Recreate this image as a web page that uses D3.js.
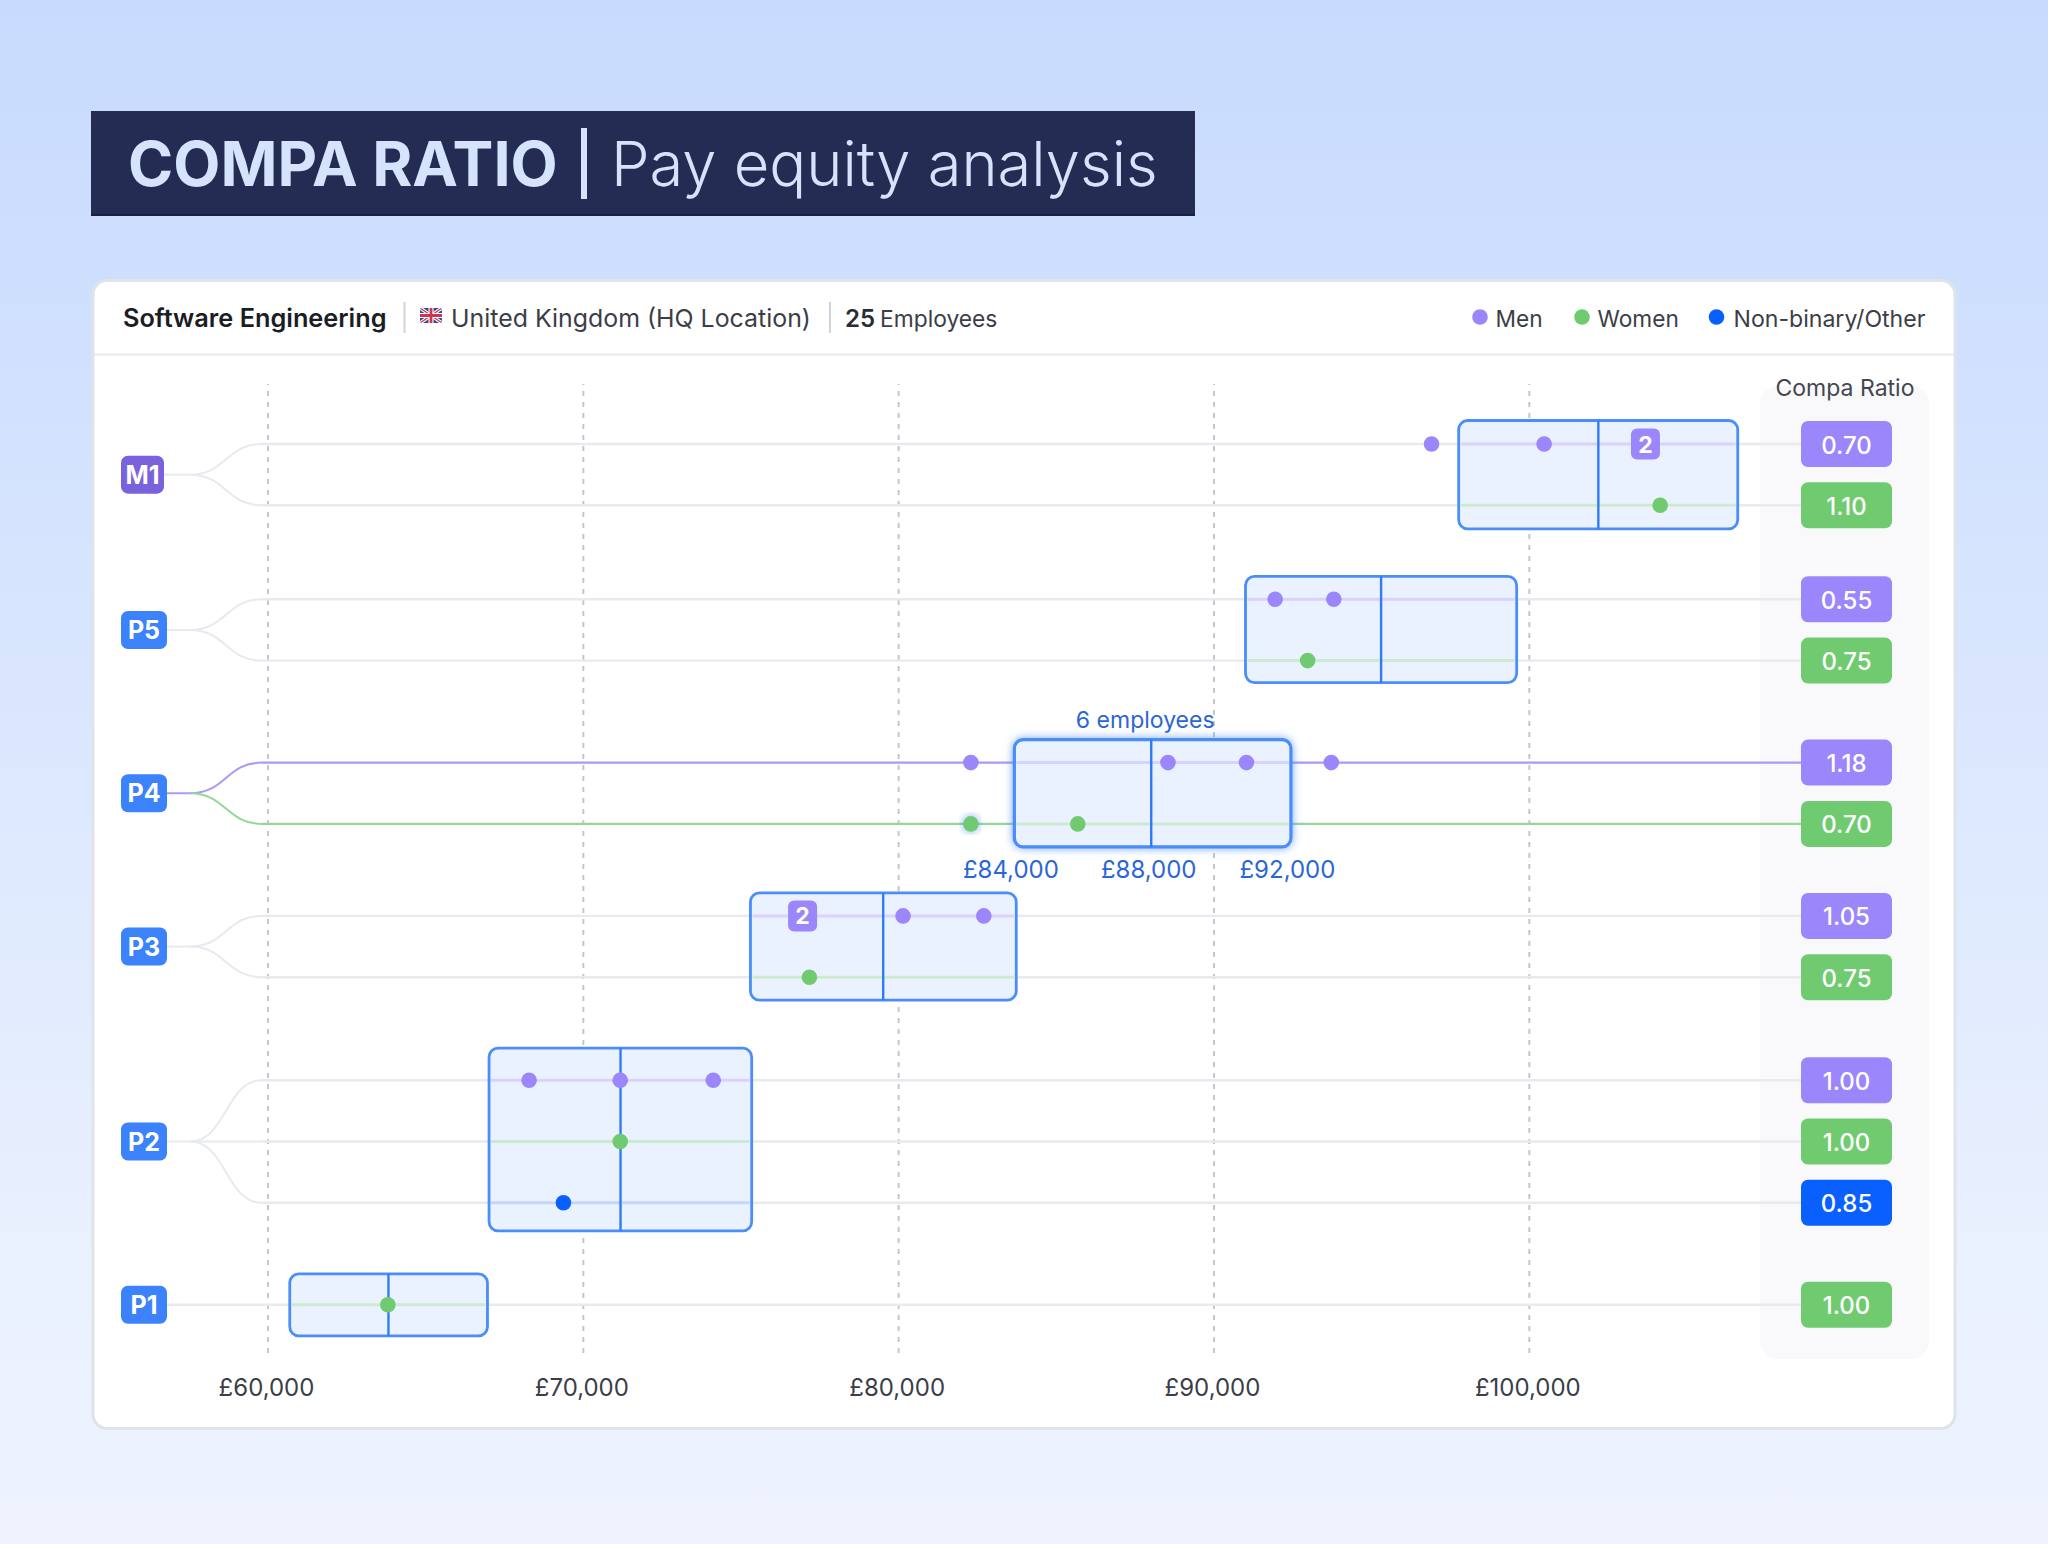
<!DOCTYPE html>
<html><head><meta charset="utf-8">
<script src="https://cdn.jsdelivr.net/npm/d3@7/dist/d3.min.js"></script>
<style>
html,body{margin:0;padding:0;background:#edf2fe}
svg{display:block}
text{font-family:Inter,"Noto Sans",sans-serif}
</style></head><body>
<script>
// ---------- data ----------
const levels = ["M1","P5","P4","P3","P2","P1"];
const bandMin = [97760,91000,83670,75300,67010,60690];
const bandMid = [102190,95300,88010,79510,71180,63820];
const bandMax = [106610,99600,92440,83730,75340,66960];
const rowLevels = ["M1","M1","P5","P5","P4","P4","P3","P3","P2","P2","P2","P1"];
const rowGroups = ["Men","Women","Men","Women","Men","Women","Men","Women","Men","Women","Non-binary/Other","Women"];
const rowRatios = ["0.70","1.10","0.55","0.75","1.18","0.70","1.05","0.75","1.00","1.00","0.85","1.00"];
const rowSalaries = [
  [96900,100470],[104150],
  [91940,93800],[92970],
  [82290,88540,91030,93720],[82290,85680],
  [80140,82700],[77170],
  [68280,71170,74120],[71170],
  [69370],[63800]
];
const clusterRows = [0,6];
const clusterSalaries = [103700,76970];
const clusterCounts = [2,2];
const axisTicks = [60000,70000,80000,90000,100000];
const legendGroups = ["Men","Women","Non-binary/Other"];
const highlightLevel = "P4";
const highlightLabels = ["£84,000","£88,000","£92,000"];
const highlightCaption = "6 employees";

// ---------- style / layout ----------
const W=2048,H=1544;
const colors={"Men":"#9b87fb","Women":"#70cb70","Non-binary/Other":"#0a60ff"};
const inBox={"Men":"#d9d2fc","Women":"#cdeacf","Non-binary/Other":"#c6d6f6"};
const hiLine={"Men":"#a999fa","Women":"#93d894"};
const rowGrey="#e7eaee", blue="#4a8dfb";
const rowGap=61.3, groupGaps=[94,102,92,103,102];

const x=d3.scaleLinear().domain([60000,100000]).range([268,1529.3]);
const rowY=[];let cy=444;
rowLevels.forEach((l,i)=>{
  if(i>0){cy+= l===rowLevels[i-1]?rowGap:groupGaps[levels.indexOf(l)-1];}
  rowY.push(cy);
});
const y=d3.scaleOrdinal().domain(d3.range(rowLevels.length)).range(rowY);
const rowsOf=l=>d3.range(rowLevels.length).filter(i=>rowLevels[i]===l);
const midOf=l=>{const r=rowsOf(l);return (y(r[0])+y(r[r.length-1]))/2;};

const svg=d3.select("body").append("svg").attr("width",W).attr("height",H).attr("viewBox",`0 0 ${W} ${H}`);
const defs=svg.append("defs");
const g=defs.append("linearGradient").attr("id","bg").attr("x1",0).attr("y1",0).attr("x2",0).attr("y2",1);
[[0,"#c8dbfe"],[0.2,"#cfdffe"],[0.5,"#dce8fe"],[0.8,"#e9f0fe"],[1,"#eef3fe"]].forEach(s=>g.append("stop").attr("offset",s[0]).attr("stop-color",s[1]));
const glow=defs.append("filter").attr("id","glow").attr("x","-20%").attr("y","-20%").attr("width","140%").attr("height","140%");
glow.append("feDropShadow").attr("dx",0).attr("dy",0).attr("stdDeviation",4).attr("flood-color","#4a8bfb").attr("flood-opacity",0.75);

svg.append("rect").attr("width",W).attr("height",H).attr("fill","url(#bg)");

// title
svg.append("rect").attr("x",91).attr("y",111).attr("width",1104).attr("height",105).attr("fill","#252c54");
svg.append("rect").attr("x",91).attr("y",214).attr("width",1104).attr("height",2).attr("fill","#1a1f4a");
const titleFill="#d6e3fd";
svg.append("text").attr("x",128).attr("y",186).attr("font-size",61.2).attr("font-weight",700).attr("fill",titleFill).text("COMPA RATIO");
svg.append("rect").attr("x",581).attr("y",128).attr("width",6).attr("height",71).attr("fill",titleFill);
svg.append("text").attr("x",611).attr("y",186).attr("font-size",61.4).attr("font-weight",300).attr("fill",titleFill).text("Pay equity analysis");

// card
svg.append("rect").attr("x",93).attr("y",280.5).attr("width",1862).attr("height",1148).attr("rx",14).attr("fill","#fff").attr("stroke","#dfe3ea").attr("stroke-width",3);
svg.append("line").attr("x1",94).attr("x2",1954).attr("y1",354.5).attr("y2",354.5).attr("stroke","#e6e9ee").attr("stroke-width",2);

// header
const hText=(tx,s,w,fill,size)=>svg.append("text").attr("x",tx).attr("y",326.7).attr("font-size",size).attr("font-weight",w).attr("fill",fill).text(s);
hText(123,"Software Engineering",600,"#1b1d24",25.3);
[404.5,830].forEach(sx=>svg.append("line").attr("x1",sx).attr("x2",sx).attr("y1",302).attr("y2",333).attr("stroke","#cfd3da").attr("stroke-width",2));
// flag
const flag=svg.append("g").attr("transform","translate(420,308)");
defs.append("clipPath").attr("id","fc").append("rect").attr("width",22).attr("height",15).attr("rx",2);
const fg=flag.append("g").attr("clip-path","url(#fc)");
fg.append("rect").attr("width",22).attr("height",15).attr("fill","#3a4a8f");
[["M0 0L22 15M22 0L0 15","#fff",3.4],["M0 0L22 15M22 0L0 15","#cf3550",1.2],["M11 0V15M0 7.5H22","#fff",5],["M11 0V15M0 7.5H22","#cf3550",2.8]]
  .forEach(p=>fg.append("path").attr("d",p[0]).attr("stroke",p[1]).attr("stroke-width",p[2]).attr("fill","none"));
hText(451,"United Kingdom (HQ Location)",400,"#3b3e47",24.9);
hText(845,"25",600,"#2a2c34",24);
hText(880,"Employees",400,"#3b3e47",22.8);

// legend
const legendX=[1480,1582,1716.5], legendTextX=[1495.5,1597.5,1733.5], legendSize=[22.7,22.7,23.1];
legendGroups.forEach((k,i)=>{
  svg.append("circle").attr("cx",legendX[i]).attr("cy",317).attr("r",7.8).attr("fill",colors[k]);
  svg.append("text").attr("x",legendTextX[i]).attr("y",326.5).attr("font-size",legendSize[i]).attr("fill","#3b3e47").text(k);
});

// compa panel
svg.append("rect").attr("x",1760).attr("y",386).attr("width",169).attr("height",973).attr("rx",18).attr("fill","#f9f9fb");
svg.append("text").attr("x",1845).attr("y",396).attr("text-anchor","middle").attr("font-size",23).attr("fill","#44474f").text("Compa Ratio");

// grid + axis
svg.append("g").attr("transform","translate(0,1353)")
  .call(d3.axisBottom(x).offset(0).tickValues(axisTicks).tickSize(-969).tickFormat(""))
  .call(a=>a.select(".domain").remove())
  .selectAll("line").attr("stroke","#c4c7cd").attr("stroke-width",2).attr("stroke-dasharray","5 6");
svg.append("g").attr("transform","translate(-1.5,1396)")
  .call(d3.axisBottom(x).offset(0).tickValues(axisTicks).tickSize(0).tickPadding(0).tickFormat(d=>"£"+d3.format(",")(d)))
  .call(a=>a.select(".domain").remove())
  .selectAll("text").attr("y",0).attr("dy",0).attr("font-size",24).attr("font-family","Inter").attr("fill","#3b3e47");

// rows + connectors
const link=d3.linkHorizontal();
rowLevels.forEach((l,i)=>{
  const hi=l===highlightLevel;
  const stroke=hi?hiLine[rowGroups[i]]:rowGrey;
  const r=rowsOf(l);
  if(r.length>1){
    svg.append("path").attr("d",link({source:[190,midOf(l)],target:[262,y(i)]})).attr("fill","none").attr("stroke",stroke).attr("stroke-width",2);
  }
  svg.append("line").attr("x1",r.length>1?262:160).attr("x2",1801).attr("y1",y(i)).attr("y2",y(i)).attr("stroke",stroke).attr("stroke-width",2.4);
});
levels.forEach(l=>{
  if(rowsOf(l).length>1){
    const h=l===highlightLevel;
    svg.append("line").attr("x1",160).attr("x2",190).attr("y1",midOf(l)).attr("y2",midOf(l)).attr("stroke",h?hiLine.Men:rowGrey).attr("stroke-width",2);
  }
});

// salary bands
const padTop={M1:23.5,P5:23,P4:23,P3:23,P2:32,P1:31};
const padBot={M1:23.5,P5:22,P4:23,P3:23,P2:28,P1:31};
levels.forEach((l,i)=>{
  const r=rowsOf(l),t=y(r[0])-padTop[l],b=y(r[r.length-1])+padBot[l],hi=l===highlightLevel;
  const rect=svg.append("rect").attr("x",x(bandMin[i])).attr("y",t).attr("width",x(bandMax[i])-x(bandMin[i])).attr("height",b-t).attr("rx",9)
    .attr("fill","#ebf2ff").attr("stroke",blue).attr("stroke-width",hi?3.2:2.8);
  if(hi)rect.attr("filter","url(#glow)");
  r.forEach(k=>svg.append("line").attr("x1",x(bandMin[i])+2).attr("x2",x(bandMax[i])-2).attr("y1",y(k)).attr("y2",y(k)).attr("stroke",inBox[rowGroups[k]]).attr("stroke-width",3));
  svg.append("line").attr("x1",x(bandMid[i])).attr("x2",x(bandMid[i])).attr("y1",t).attr("y2",b).attr("stroke","#2f7bfa").attr("stroke-width",2.4);
});

// points
rowSalaries.forEach((arr,i)=>arr.forEach(v=>{
  const c=svg.append("circle").attr("cx",x(v)).attr("cy",y(i)).attr("r",7.8).attr("fill",colors[rowGroups[i]]);
  if(rowLevels[i]===highlightLevel&&rowGroups[i]==="Women"&&v===82290)c.attr("filter","url(#glow)");
}));
clusterRows.forEach((r,i)=>{
  const cx=x(clusterSalaries[i]),cyy=y(r);
  svg.append("rect").attr("x",cx-15).attr("y",cyy-15.5).attr("width",29).attr("height",31).attr("rx",6).attr("fill",colors[rowGroups[r]]);
  svg.append("text").attr("x",cx-0.5).attr("y",cyy+8.5).attr("text-anchor","middle").attr("font-size",23).attr("font-weight",700).attr("fill","#fff").text(clusterCounts[i]);
});

// highlight annotation
const hi=levels.indexOf(highlightLevel);
const annot="#2a66d9";
svg.append("text").attr("x",x(bandMid[hi])-6).attr("y",728).attr("text-anchor","middle").attr("font-size",23).attr("fill",annot).text(highlightCaption);
[bandMin[hi],bandMid[hi],bandMax[hi]].forEach((v,i)=>
  svg.append("text").attr("x",x(v)-(i===1?2.5:3.5)).attr("y",878).attr("text-anchor","middle").attr("font-size",24).attr("fill",annot).text(highlightLabels[i]));

// level badges
const badgeW={M1:43};
levels.forEach(l=>{
  const m=midOf(l),w=badgeW[l]||46;
  svg.append("rect").attr("x",121).attr("y",m-19).attr("width",w).attr("height",38).attr("rx",7).attr("fill",l==="M1"?"#7a62dd":"#3b82fb");
  svg.append("text").attr("x",121+w/2).attr("y",m+9).attr("text-anchor","middle").attr("font-size",25).attr("font-weight",700).attr("fill","#fff").text(l);
});

// ratio pills
rowRatios.forEach((t,i)=>{
  svg.append("rect").attr("x",1801).attr("y",y(i)-23).attr("width",91).attr("height",46).attr("rx",7).attr("fill",colors[rowGroups[i]]);
  svg.append("text").attr("x",1846.5).attr("y",y(i)+9.5).attr("text-anchor","middle").attr("font-size",24).attr("font-weight",500).attr("fill","#fff").text(t);
});
</script>
</body></html>
